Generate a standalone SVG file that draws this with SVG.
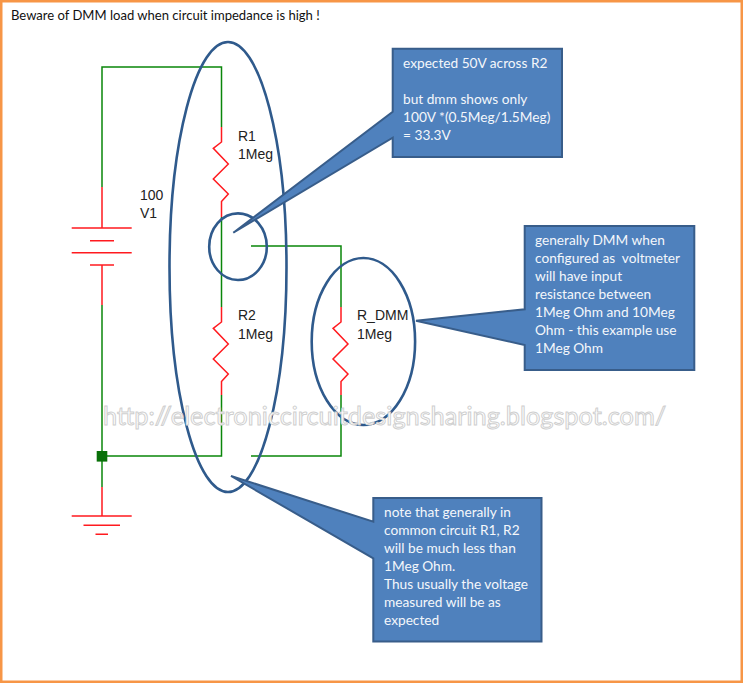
<svg xmlns="http://www.w3.org/2000/svg" width="743" height="683" viewBox="0 0 743 683">
<style>
.g{fill:none;stroke:#0a860a;stroke-width:1.5}
.r{fill:none;stroke:#ff1a1f;stroke-width:1.5}
.e{fill:none;stroke:#2f5a8c;stroke-width:2.6}
.c{fill:#4f81bd;stroke:#385d8a;stroke-width:2}
.t{font-family:"Lato","Open Sans",sans-serif;font-size:13.7px;fill:#f4f7fb}
.l{font-family:"Liberation Sans",Arial,sans-serif;font-size:14px;fill:#222}
.w{font-family:"Lato","Open Sans",sans-serif;font-size:25.3px;fill:#fff;stroke:#cfcfcf;stroke-width:1}
</style>
<rect x="0" y="0" width="743" height="683" fill="#fff"/>
<rect id="frame" x="1.2" y="1.2" width="740.6" height="680.6" fill="none" stroke="#f79646" stroke-width="2.6"/>
<text x="11" y="20" font-family="Lato,sans-serif" font-size="13.05" fill="#111">Beware of DMM load when circuit impedance is high !</text>
<g id="connectors">
<path class="g" d="M102 187V67H221.5V127"/>
<path class="g" d="M221.5 217V307"/>
<path class="g" d="M221.5 395V456H102"/>
<path class="g" d="M251 246H341V307"/>
<path class="g" d="M341 395V456H251"/>
<path class="g" d="M102 305V487"/>
</g>
<g id="V1">
<path class="r" d="M102 187V228M71.7 228H131.7M90 240.7H114M71.7 252.7H131.7M102 265V305"/>
<path class="r" d="M90 265H114" stroke-width="2"/>
<text class="l" x="140" y="200">100</text>
<text class="l" x="140" y="218">V1</text>
</g>
<g id="R1">
<path class="r" d="M221.5 127V142L213.3 148.3L228.3 164L213.3 179L228.3 194L221.5 201.5V217"/>
<text class="l" x="238" y="141">R1</text>
<text class="l" x="238" y="159">1Meg</text>
</g>
<g id="R2">
<path class="r" d="M221.5 307V322L213.3 328.3L228.3 344L213.3 359L228.3 374L221.5 381.5V395"/>
<text class="l" x="238" y="320">R2</text>
<text class="l" x="238" y="339">1Meg</text>
</g>
<g id="R_DMM">
<path class="r" d="M341 307V322L333 328.3L348 344L333 359L348 374L341 381.5V395"/>
<text class="l" x="357" y="320">R_DMM</text>
<text class="l" x="357" y="339">1Meg</text>
</g>
<g id="GND">
<path class="r" d="M102 487V516M71.7 516H131.7M83.5 525.3H120M95.5 534.3H108"/>
</g>
<rect id="junction" x="96.7" y="451" width="10.6" height="10.6" fill="#087008"/>
<g id="ellipses">
<ellipse class="e" cx="228" cy="267" rx="58.5" ry="225"/>
<ellipse class="e" cx="238" cy="246.7" rx="28.8" ry="33.3"/>
<ellipse class="e" cx="363.4" cy="341.5" rx="51.7" ry="83.5"/>
</g>
<g id="callout1">
<path class="c" d="M392.7 48.7H562V157H392.7V137.7L233.3 232.7L392.7 111.7Z"/>
<text class="t"><tspan x="403" y="68">expected 50V across R2</tspan><tspan x="403" y="104">but dmm shows only</tspan><tspan x="403" y="122">100V *(0.5Meg/1.5Meg)</tspan><tspan x="403" y="140">= 33.3V</tspan></text>
</g>
<g id="callout2">
<path class="c" d="M524.7 226H694.3V370H524.7V345L416 320.7L524.7 309.3Z"/>
<text class="t" xml:space="preserve"><tspan x="535" y="245">generally DMM when</tspan><tspan x="535" y="263">configured as  voltmeter</tspan><tspan x="535" y="281">will have input</tspan><tspan x="535" y="299">resistance between</tspan><tspan x="535" y="317">1Meg Ohm and 10Meg</tspan><tspan x="535" y="335">Ohm - this example use</tspan><tspan x="535" y="353">1Meg Ohm</tspan></text>
</g>
<g id="callout3">
<path class="c" d="M373.3 498H541.5V641.5H373.3V558.3L231 476L373.3 521.7Z"/>
<text class="t"><tspan x="384" y="517">note that generally in</tspan><tspan x="384" y="535">common circuit R1, R2</tspan><tspan x="384" y="553">will be much less than</tspan><tspan x="384" y="571">1Meg Ohm.</tspan><tspan x="384" y="589">Thus usually the voltage</tspan><tspan x="384" y="607">measured will be as</tspan><tspan x="384" y="625">expected</tspan></text>
</g>
<text class="w" x="103" y="425">http://electroniccircuitdesignsharing.blogspot.com/</text>
</svg>
